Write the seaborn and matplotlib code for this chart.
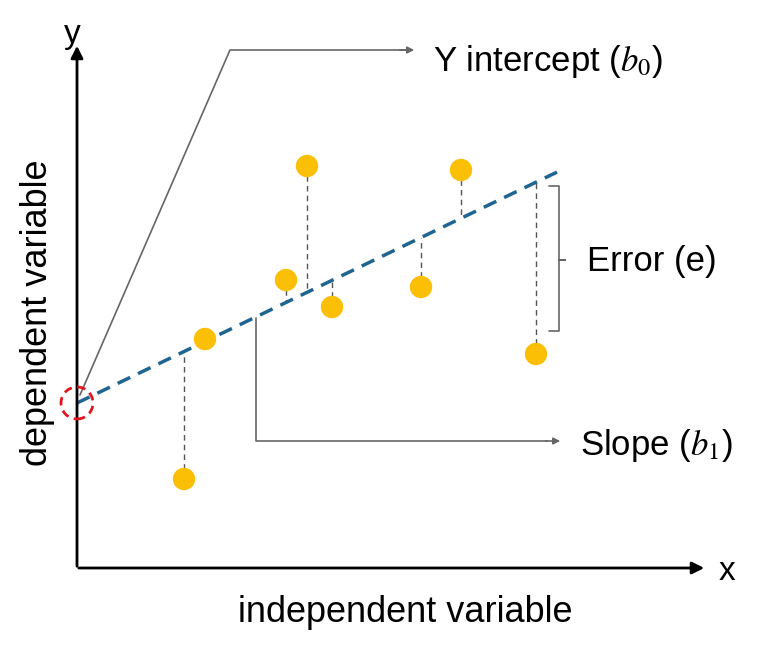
import numpy as np
import pandas as pd
import seaborn as sns
import matplotlib.pyplot as plt
from matplotlib.patches import Circle

sns.set_style("white")
plt.rcParams['font.family'] = ['Liberation Sans', 'DejaVu Sans']
plt.rcParams['mathtext.fontset'] = 'stix'
plt.rcParams['text.color'] = 'black'

# data (pixel-like units, origin at axis corner)
point_x = [107, 128, 209, 230, 255, 344, 384, 459]
point_y = [89, 229, 288, 402, 261, 281, 398, 214]
intercept = 165
slope = 0.481
line_x = [0, 480]

fig = plt.figure(figsize=(7.68, 6.56), dpi=100)
ax = fig.add_axes([0, 0, 1, 1])
ax.set_xlim(-77, 691)
ax.set_ylim(-88, 568)
ax.axis("off")

pts = pd.DataFrame({"x": point_x, "y": point_y})
pts["fit"] = intercept + slope * pts["x"]
reg = pd.DataFrame({"x": line_x, "y": [intercept + slope * v for v in line_x]})

# residual lines
for _, r in pts.iterrows():
    ax.plot([r.x, r.x], [r.y, r.fit], color="#555555", lw=1, ls=(0, (4, 3)), zorder=1)

sns.lineplot(data=reg, x="x", y="y", ax=ax, color="#1f6591", lw=2.5,
             linestyle=(0, (4, 2.5)), zorder=2)
sns.scatterplot(data=pts, x="x", y="y", ax=ax, color="#fbbf06", s=260,
                edgecolor="none", zorder=3)

# axes arrows
ax.annotate("", xy=(0, 525), xytext=(0, -1),
            arrowprops=dict(arrowstyle="-|>", color="black", lw=2, mutation_scale=18))
ax.annotate("", xy=(630, 0), xytext=(-1, 0),
            arrowprops=dict(arrowstyle="-|>", color="black", lw=2, mutation_scale=18))
ax.text(-5, 533, "y", fontsize=24, ha="center", va="center")
ax.text(650, -4, "x", fontsize=24, ha="center", va="center")
ax.text(328, -44, "independent variable", fontsize=26, ha="center", va="center")
ax.text(-39, 255, "dependent variable", fontsize=26, ha="center", va="center", rotation=90)

# intercept circle
ax.add_patch(Circle((0, intercept), 16, fill=False, ec="#e0161e", lw=2, ls=(0, (3, 2)), zorder=4))

# Y intercept annotation
ax.plot([3, 153, 330], [173, 518, 518], color="#666666", lw=1.2)
ax.annotate("", xy=(340, 518), xytext=(320, 518),
            arrowprops=dict(arrowstyle="-|>", color="#666666", lw=1.2))
ax.text(356, 506, r"Y intercept ($b_0$)", fontsize=25, va="center")

# Slope annotation
ax.plot([179, 179, 470], [250, 127, 127], color="#666666", lw=1.2)
ax.annotate("", xy=(486, 127), xytext=(466, 127),
            arrowprops=dict(arrowstyle="-|>", color="#666666", lw=1.2))
ax.text(503, 123, r"Slope ($b_1$)", fontsize=25, va="center")

# Error bracket
ax.plot([472, 482, 482, 488, 482, 482, 472], [382, 382, 308, 308, 308, 237, 237],
        color="#666666", lw=1.2)
ax.text(510, 306, "Error (e)", fontsize=25, va="center")

fig.savefig("out.png", dpi=100)
